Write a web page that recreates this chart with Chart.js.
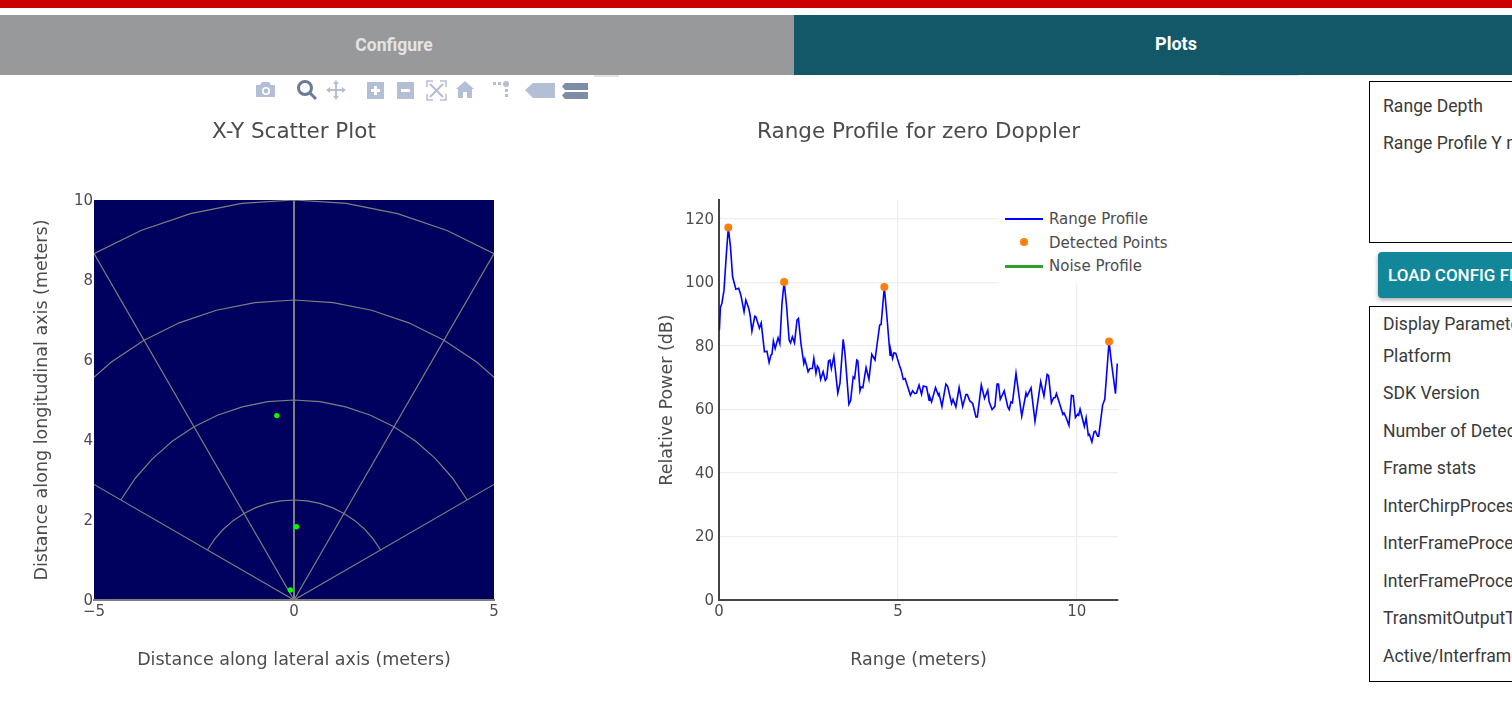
<!DOCTYPE html>
<html>
<head>
<meta charset="utf-8">
<title>Plots</title>
<script src="https://cdn.jsdelivr.net/npm/chart.js@4"></script>
<style>
html, body { margin: 0; padding: 0; background: #fff; overflow: hidden; width: 1512px; height: 717px; font-family: Roboto, sans-serif; }
.abs { position: absolute; }
#redbar { left: 0; top: 0; width: 1512px; height: 8px; background: #cc0000; }
.tab { top: 15px; height: 60px; text-align: center; font-weight: 700; }
#tab-config { left: 0; width: 788px; padding-right: 6px; background: #98999b; color: #e4e4e4; line-height: 60px; font-size: 17.5px; }
#tab-plots { left: 794px; width: 764px; background: #135869; color: #fff; line-height: 57px; font-size: 18px; }
#stub1 { left: 594px; top: 75px; width: 25px; height: 2px; background: #e3e3e3; }
#stub2 { left: 1219px; top: 75px; width: 80px; height: 1px; background: #dfe7e9; }
canvas { position: absolute; }
#scatter { left: 0; top: 76px; }
#profile { left: 620px; top: 76px; }
#toolbar { left: 250px; top: 78px; }
#legend { left: 999px; top: 200px; width: 178px; height: 84px; background: #fff; font-family: "DejaVu Sans", sans-serif; font-size: 15px; color: #4c4c4c; }
#legend .row { position: absolute; left: 50px; white-space: nowrap; line-height: 18px; }
#legend .swatch { position: absolute; left: 6px; width: 38px; }
.panel { left: 1369px; width: 200px; border: 1px solid #000; box-sizing: border-box; background: #fff; }
.panel div { position: absolute; left: 13px; white-space: nowrap; font-size: 17.6px; color: #3a3a3a; line-height: 20px; }
#panel-top { top: 81px; height: 162px; }
#panel-stats { top: 306px; height: 376px; }
#load-btn { left: 1378px; top: 252px; width: 220px; height: 46px; line-height: 46px; background: #12879a; color: #fff; border-radius: 4px; box-shadow: 0 2px 4px rgba(0,0,0,.35); font-size: 17px; font-weight: 500; padding-left: 10px; box-sizing: border-box; white-space: nowrap; }
</style>
</head>
<body>
<div class="abs" id="redbar"></div>
<div class="abs tab" id="tab-config">Configure</div>
<div class="abs tab" id="tab-plots">Plots</div>
<div class="abs" id="stub1"></div>
<div class="abs" id="stub2"></div>

<svg class="abs" id="toolbar" width="345" height="26" viewBox="0 0 345 26">
	<g fill="#b4bed5">
		<!-- camera -->
		<path d="M6 7h4l2-3h7l2 3h4v12H6z"/><circle cx="16" cy="13" r="4" fill="#fff"/><circle cx="16" cy="13" r="2.4"/>
		<!-- pan -->
		<path d="M86 2l3 4h-2v5h5V9l4 3-4 3v-2h-5v5h2l-3 4-3-4h2v-5h-5v2l-4-3 4-3v2h5V6h-2z"/>
		<!-- zoom in / out -->
		<path d="M117 4h17v17h-17zM124 8v3h-3v3h3v3h3v-3h3v-3h-3V8z" fill-rule="evenodd"/>
		<path d="M147 4h17v17h-17zM151 11v3h9v-3z" fill-rule="evenodd"/>
		<!-- home -->
		<path d="M215 3l9 8h-2v9h-5v-6h-4v6h-5v-9h-2z"/>
		<!-- spikes -->
		<rect x="243" y="4" width="3" height="3"/><rect x="248" y="4" width="3" height="3"/><circle cx="256" cy="6" r="3"/><rect x="255" y="11" width="3" height="3"/><rect x="255" y="16" width="3" height="3"/>
		<!-- hover closest -->
		<path d="M275 12l8-7h22v15h-22z"/>
	</g>
	<!-- autoscale -->
	<g fill="none" stroke="#b4bed5" stroke-width="1.5">
		<path d="M177 9V3h6M190 3h6v6M196 16v6h-6M183 22h-6v-6"/>
		<path d="M180 6l13 13M193 6l-13 13" stroke-width="2"/>
	</g>
	<!-- zoom, active -->
	<g fill="none" stroke="#6b7a99">
		<circle cx="55" cy="10" r="6.5" stroke-width="3"/>
		<path d="M60 15l6 6" stroke-width="3"/>
	</g>
	<!-- compare -->
	<g fill="#7f8ca8">
		<path d="M315 5h23v7h-23l-3-3.500zM315 14h23v7h-23l-3-3.500z"/>
	</g>
</svg>

<canvas id="scatter" width="588" height="640"></canvas>
<canvas id="profile" width="598" height="640"></canvas>
<div class="abs" id="legend"></div>

<div class="abs panel" id="panel-top"></div>
<div class="abs" id="load-btn">LOAD CONFIG FROM PC</div>
<div class="abs panel" id="panel-stats"></div>

<script>
// Detected objects, meters
var detectedLateral = [-0.43, 0.06, -0.09];
var detectedLongitudinal = [4.61, 1.83, 0.25];

// Polar overlay on the scatter plot
var ringRadii = [2.5, 5, 7.5, 10];
var ringUnitX = [-0.866, -0.7934, -0.7071, -0.6088, -0.5, -0.3827, -0.2588, -0.1305, 0, 0.1305, 0.2588, 0.3827, 0.5, 0.6088, 0.7071, 0.7934, 0.866];
var ringUnitY = [0.5, 0.6088, 0.7071, 0.7934, 0.866, 0.9239, 0.9659, 0.9914, 1, 0.9914, 0.9659, 0.9239, 0.866, 0.7934, 0.7071, 0.6088, 0.5];
var spokeEndX = [-5, -5, 0, 5, 5];
var spokeEndY = [2.89, 8.66, 10, 8.66, 2.89];

// Range profile
var rangeMeters = [
	0.01, 0.04, 0.08, 0.14, 0.2, 0.26, 0.32, 0.38, 0.47, 0.55, 0.61, 0.7, 0.75, 0.83, 0.87, 0.92, 1, 1.03, 1.13, 1.18,
	1.27, 1.34, 1.4, 1.45, 1.48, 1.52, 1.57, 1.65, 1.7, 1.76, 1.82, 1.89, 1.96, 2, 2.05, 2.11, 2.18, 2.22, 2.29, 2.37,
	2.4, 2.49, 2.54, 2.61, 2.65, 2.71, 2.75, 2.79, 2.84, 2.91, 2.97, 3.01, 3.06, 3.1, 3.14, 3.21, 3.32, 3.38, 3.47, 3.52,
	3.63, 3.68, 3.75, 3.79, 3.85, 3.88, 3.94, 3.97, 4.02, 4.11, 4.19, 4.27, 4.36, 4.42, 4.49, 4.53, 4.62, 4.7, 4.78, 4.8,
	4.85, 4.89, 4.94, 5.04, 5.09, 5.15, 5.2, 5.35, 5.41, 5.47, 5.52, 5.59, 5.66, 5.71, 5.8, 5.87, 5.89, 5.94, 6.05, 6.13,
	6.15, 6.23, 6.34, 6.39, 6.5, 6.54, 6.62, 6.71, 6.81, 6.9, 6.94, 7.01, 7.09, 7.18, 7.22, 7.33, 7.42, 7.51, 7.55, 7.63,
	7.71, 7.77, 7.81, 7.86, 7.97, 8.07, 8.11, 8.16, 8.2, 8.3, 8.46, 8.58, 8.61, 8.72, 8.83, 8.99, 9.08, 9.17, 9.21, 9.29,
	9.35, 9.39, 9.43, 9.53, 9.61, 9.64, 9.69, 9.78, 9.85, 9.9, 9.96, 10.02, 10.05, 10.09, 10.19, 10.21, 10.26, 10.32, 10.35, 10.42,
	10.48, 10.52, 10.58, 10.61, 10.72, 10.78, 10.9, 10.97, 11.08, 11.13
];
var profileDb = [
	85, 92.2, 93.4, 97.6, 108.1, 117.3, 111.3, 101.8, 97.9, 98.2, 96.1, 90.8, 94.5, 91.9, 89.7, 84.7, 89.4, 89.2, 85.6, 87.3,
	78.2, 78.4, 74.8, 77.1, 77.4, 81.6, 79.2, 82.6, 80.8, 93.4, 100.2, 92.4, 81.9, 81, 82.9, 81, 88.2, 88.7, 80.8, 74.5,
	75.9, 71.9, 72.9, 72.9, 76.1, 71.4, 73.7, 72.9, 69.5, 71.9, 69.2, 69.8, 75.3, 75.6, 72.9, 76.8, 65.2, 68.2, 82.1, 77.7,
	61.7, 62.9, 70.3, 69.8, 75.6, 75.3, 65.9, 67.1, 66.9, 73.2, 69.5, 77.4, 75.6, 80.8, 86.6, 86.8, 98.6, 88.2, 77.1, 78.7,
	76.1, 77.9, 77.7, 74, 72.4, 69.5, 69.8, 64.5, 65.9, 65, 65.2, 67.7, 64.8, 67.4, 67.1, 62.9, 64, 62.4, 66.9, 64.5,
	65, 61, 68, 67.3, 61.9, 63.2, 60.8, 66.9, 61, 64.7, 64.7, 62.7, 61.9, 57.7, 57.7, 67.7, 63.5, 66.1, 62.4, 60,
	61, 68, 68, 63.2, 65.9, 60.8, 60, 62.4, 62.1, 71.4, 57.9, 65.2, 64.2, 66.8, 56.3, 68.8, 64.2, 71.1, 70.7, 62.1,
	63.7, 63.7, 65, 61.4, 58.5, 58.9, 57.7, 55, 64.5, 64.3, 57.5, 58.5, 58.2, 60.1, 55.6, 54.7, 57.4, 51.9, 52.2, 49.8,
	52.9, 53.2, 51.6, 51.6, 61.4, 63.2, 81.4, 74.5, 65, 74.5
];
var peakRange = [0.26, 1.82, 4.62, 10.9];
var peakDb = [117.3, 100.2, 98.6, 81.4];

var legendNames = ["Range Profile", "Detected Points", "Noise Profile"];
var topPanelLabels = ["Range Depth", "Range Profile Y max"];
var statLabels = ["Display Parameters", "Platform", "SDK Version", "Number of Detected Objects", "Frame stats", "InterChirpProcessingMargin", "InterFrameProcessingMargin", "InterFrameProcessingTime", "TransmitOutputTime", "Active/Interframe Duty Cycle"];

var TEXT = "#4c4c4c";
var FONT = "'DejaVu Sans', sans-serif";

function minusLabel(val) {
	return String(val).replace("-", "\u2212");
}

var plotBackground = {
	id: "plotBackground",
	beforeDraw: function (chart) {
		var a = chart.chartArea;
		chart.ctx.fillStyle = "#00005f";
		chart.ctx.fillRect(a.left, a.top, a.right - a.left, a.bottom - a.top);
	},
};

// Polar grid as plain line datasets
var overlaySets = [];
ringRadii.forEach(function (r) {
	overlaySets.push({
		type: "line",
		data: ringUnitX.map(function (u, i) {
			return { x: r * u, y: r * ringUnitY[i] };
		}),
		borderColor: "#7f7f7f",
		borderWidth: 1.2,
		pointRadius: 0,
	});
});
spokeEndX.forEach(function (x, i) {
	overlaySets.push({
		type: "line",
		data: [{ x: 0, y: 0 }, { x: x, y: spokeEndY[i] }],
		borderColor: "#7f7f7f",
		borderWidth: x === 0 ? 2 : 1.2,
		pointRadius: 0,
	});
});

new Chart(document.getElementById("scatter"), {
	type: "scatter",
	data: {
		datasets: [{
			data: detectedLateral.map(function (x, i) {
				return { x: x, y: detectedLongitudinal[i] };
			}),
			backgroundColor: "#00ff00",
			borderWidth: 0,
			pointRadius: 2.7,
		}].concat(overlaySets),
	},
	plugins: [plotBackground],
	options: {
		responsive: false,
		animation: false,
		layout: { padding: { right: 94 } },
		plugins: {
			legend: { display: false },
			tooltip: { enabled: false },
			title: {
				display: true,
				fullSize: false,
				text: "X-Y Scatter Plot",
				color: TEXT,
				font: { family: FONT, size: 21.5, weight: "normal" },
				padding: { top: 44, bottom: 54.2 },
			},
		},
		scales: {
			x: {
				type: "linear",
				min: -5,
				max: 5,
				afterFit: function (s) { s.height = 116; },
				grid: { display: false, drawTicks: false },
				border: { display: true, color: "#7f7f7f", width: 2 },
				ticks: { stepSize: 5, color: TEXT, padding: 3, maxRotation: 0, font: { family: FONT, size: 15 }, callback: minusLabel },
				title: { display: true, text: "Distance along lateral axis (meters)", color: TEXT, font: { family: FONT, size: 17.5 }, padding: { bottom: 45 } },
			},
			y: {
				min: 0,
				max: 10,
				afterFit: function (s) { s.width = 94; },
				grid: { display: false, drawTicks: false },
				border: { display: false },
				ticks: { stepSize: 2, color: TEXT, padding: 1, labelOffset: 1, font: { family: FONT, size: 15 } },
				title: { display: true, text: "Distance along longitudinal axis (meters)", color: TEXT, font: { family: FONT, size: 17.5 }, padding: { top: 32 } },
			},
		},
	},
});

new Chart(document.getElementById("profile"), {
	type: "scatter",
	data: {
		datasets: [
			{
				type: "scatter",
				label: legendNames[1],
				data: peakRange.map(function (x, i) {
					return { x: x, y: peakDb[i] };
				}),
				backgroundColor: "#ff7f0e",
				borderWidth: 0,
				pointRadius: 4,
			},
			{
				type: "line",
				label: legendNames[0],
				data: rangeMeters.map(function (x, i) {
					return { x: x, y: profileDb[i] };
				}),
				borderColor: "#0000ff",
				borderWidth: 1.6,
				pointRadius: 0,
				order: 1,
			},
			{
				type: "line",
				label: legendNames[2],
				data: [],
				borderColor: "#2ca02c",
				borderWidth: 2,
				pointRadius: 0,
			},
		],
	},
	options: {
		responsive: false,
		animation: false,
		layout: { padding: { right: 100 } },
		plugins: {
			legend: { display: false },
			tooltip: { enabled: false },
			title: {
				display: true,
				fullSize: false,
				text: "Range Profile for zero Doppler",
				color: TEXT,
				font: { family: FONT, size: 21.5, weight: "normal" },
				padding: { top: 44, bottom: 54.2 },
			},
		},
		scales: {
			x: {
				type: "linear",
				min: 0,
				max: 11.15,
				afterFit: function (s) { s.height = 116; },
				grid: { color: "#eeeeee", lineWidth: 1.3, drawTicks: false },
				border: { display: true, color: "#444", width: 2 },
				ticks: { stepSize: 5, includeBounds: false, color: TEXT, padding: 3, maxRotation: 0, font: { family: FONT, size: 15 } },
				title: { display: true, text: "Range (meters)", color: TEXT, font: { family: FONT, size: 17.5 }, padding: { bottom: 45 } },
			},
			y: {
				min: 0,
				max: 126,
				afterFit: function (s) { s.width = 99; },
				grid: { color: "#eeeeee", lineWidth: 1.3, drawTicks: false },
				border: { display: true, color: "#444", width: 2 },
				ticks: { stepSize: 20, includeBounds: false, color: TEXT, padding: 5, labelOffset: 1, font: { family: FONT, size: 15 } },
				title: { display: true, text: "Relative Power (dB)", color: TEXT, font: { family: FONT, size: 17.5 }, padding: { top: 37 } },
			},
		},
	},
});

// Legend box sits over the plot like plotly's
var legendBox = document.getElementById("legend");
var legendRowTop = [10, 34, 57];
legendNames.forEach(function (name, i) {
	var row = document.createElement("div");
	row.className = "row";
	row.style.top = legendRowTop[i] + "px";
	row.textContent = name;
	legendBox.appendChild(row);
	var sw = document.createElement("div");
	sw.className = "swatch";
	if (i === 1) {
		sw.style.cssText = "left:21px;top:38px;width:8px;height:8px;border-radius:50%;background:#ff7f0e";
	} else {
		sw.style.top = (i === 0 ? 18 : 65) + "px";
		sw.style.height = i === 0 ? "1.5px" : "2.5px";
		sw.style.background = i === 0 ? "#0000ff" : "#2ca02c";
	}
	legendBox.appendChild(sw);
});

function fillPanel(id, labels, centers) {
	var panel = document.getElementById(id);
	labels.forEach(function (text, i) {
		var d = document.createElement("div");
		d.textContent = text;
		d.style.top = centers[i] - 10 + "px";
		panel.appendChild(d);
	});
}
fillPanel("panel-top", topPanelLabels, [24, 61]);
fillPanel("panel-stats", statLabels, [17, 49, 86, 124, 161, 199, 236, 274, 311, 349]);
</script>
</body>
</html>
